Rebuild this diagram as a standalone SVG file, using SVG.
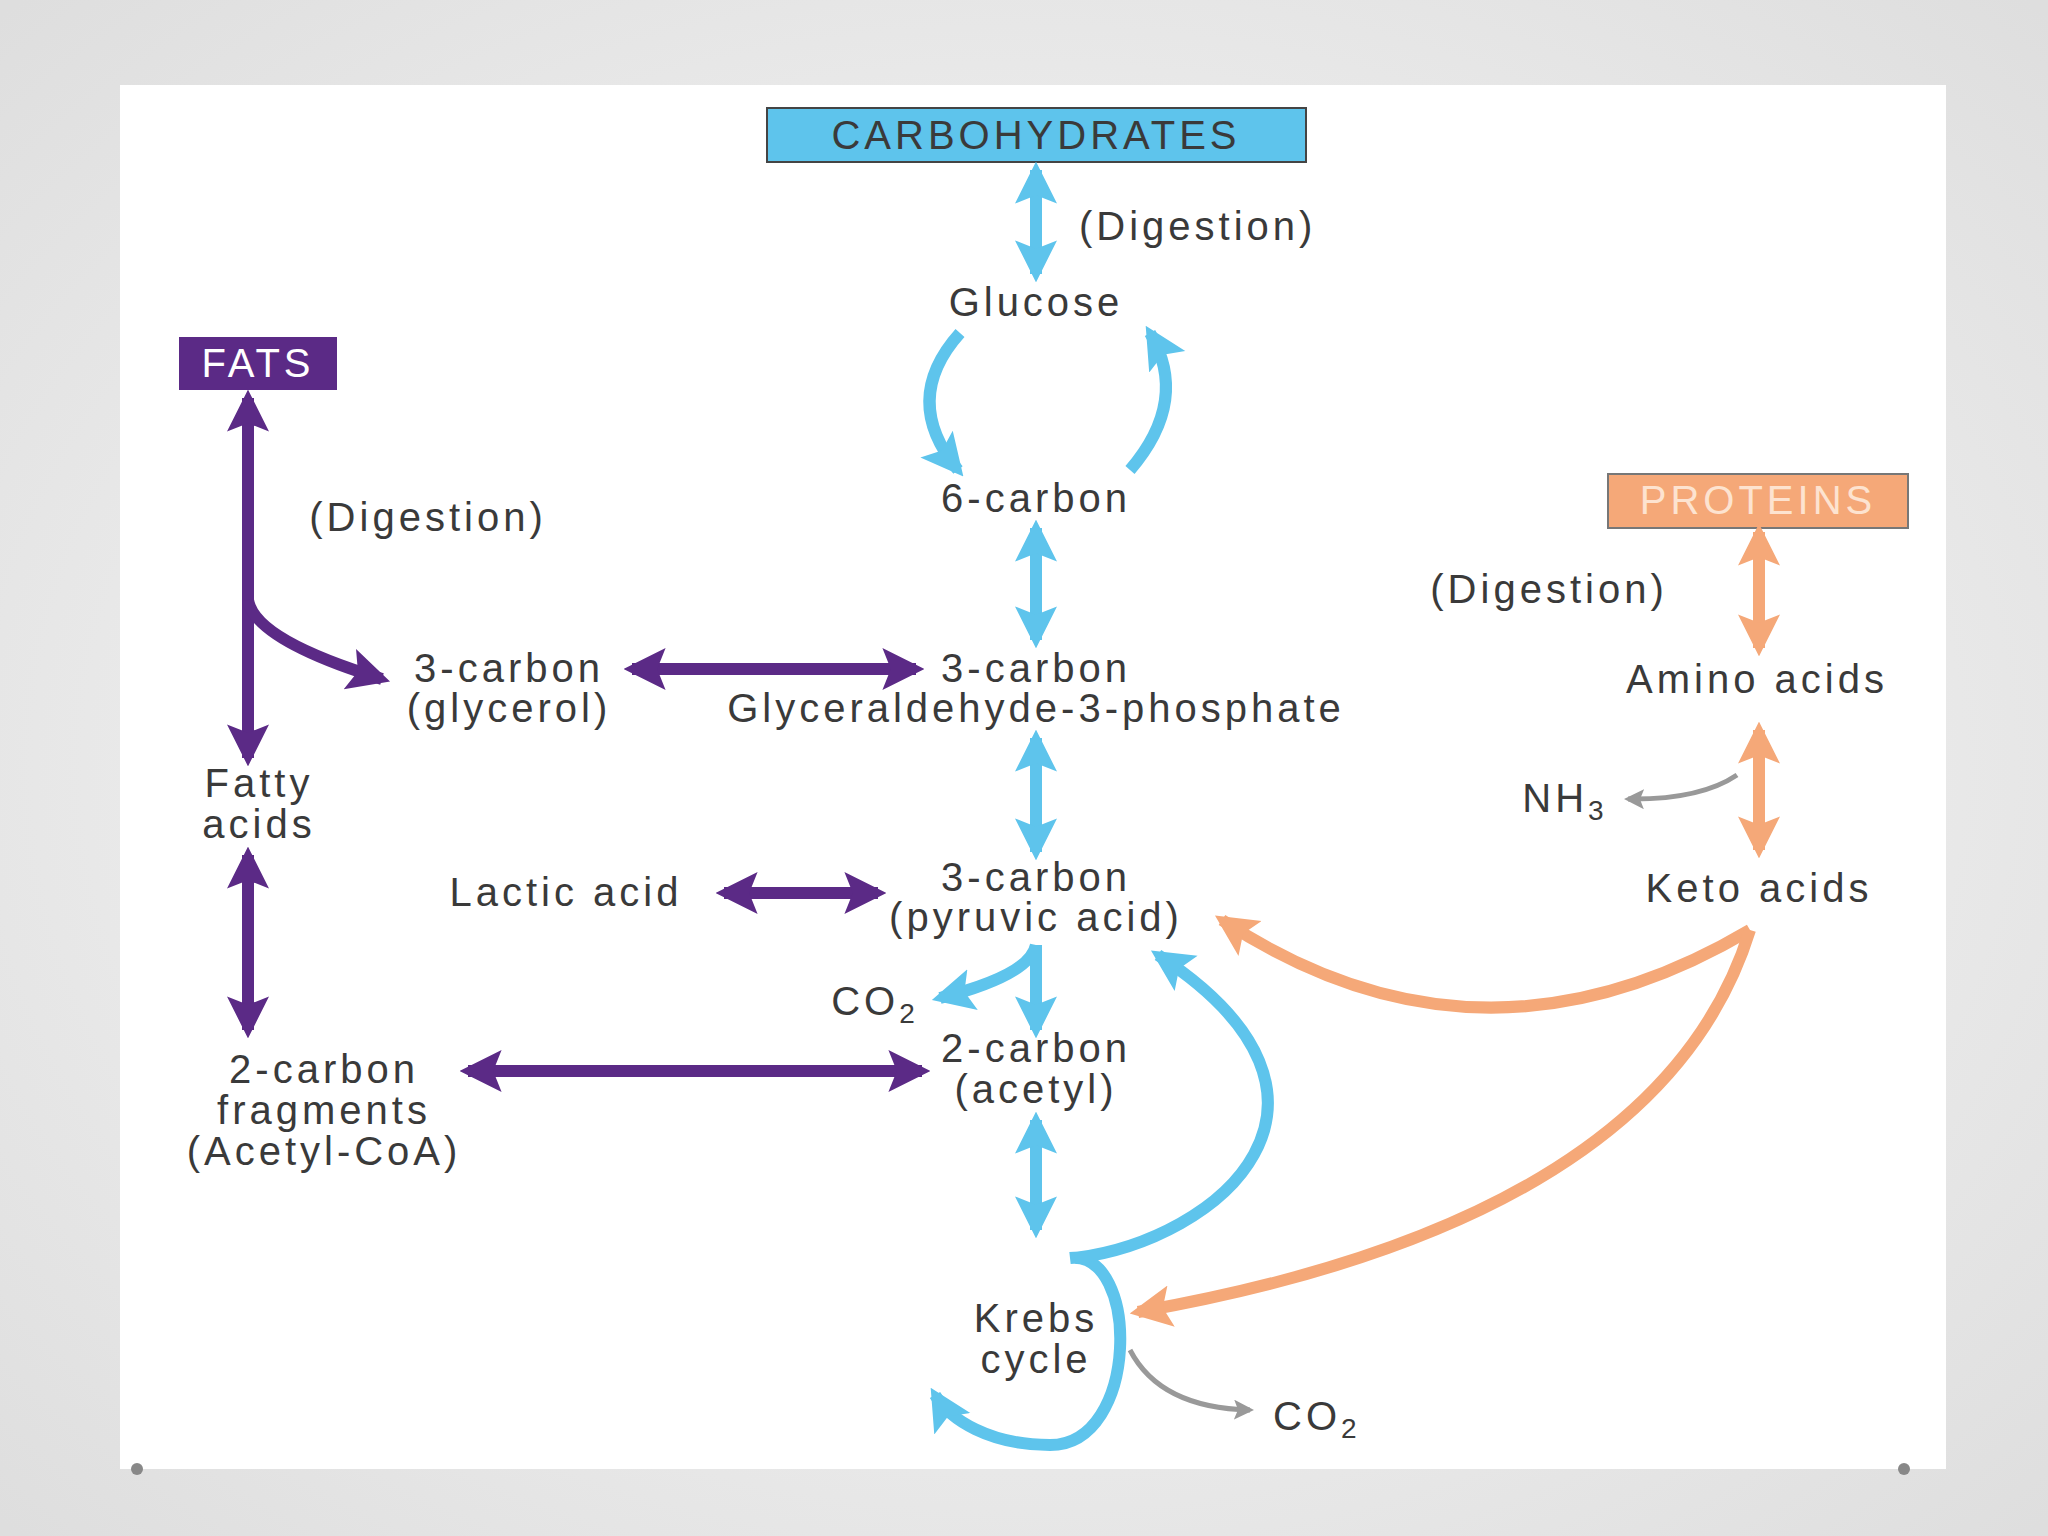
<svg xmlns="http://www.w3.org/2000/svg" width="2048" height="1536" viewBox="0 0 2048 1536">
<defs>
<radialGradient id="bg" cx="0.5" cy="0.5" r="0.7"><stop offset="0" stop-color="#fbfbfb"/><stop offset="1" stop-color="#dedede"/></radialGradient>
<marker id="hb" viewBox="0 0 10 10" refX="8" refY="5" markerWidth="42" markerHeight="46" markerUnits="userSpaceOnUse" orient="auto-start-reverse"><path d="M0,0 L10,5 L0,10 L2,5 Z" fill="#5ec4ec"/></marker>
<marker id="hp" viewBox="0 0 10 10" refX="8" refY="5" markerWidth="42" markerHeight="46" markerUnits="userSpaceOnUse" orient="auto-start-reverse"><path d="M0,0 L10,5 L0,10 L2,5 Z" fill="#5b2a86"/></marker>
<marker id="ho" viewBox="0 0 10 10" refX="8" refY="5" markerWidth="42" markerHeight="46" markerUnits="userSpaceOnUse" orient="auto-start-reverse"><path d="M0,0 L10,5 L0,10 L2,5 Z" fill="#f5a878"/></marker>
<marker id="hg" viewBox="0 0 10 10" refX="8" refY="5" markerWidth="20" markerHeight="20" markerUnits="userSpaceOnUse" orient="auto"><path d="M0,0 L10,5 L0,10 L2,5 Z" fill="#999"/></marker>
</defs>
<style>
text{font-family:"Liberation Sans",Arial,sans-serif;font-size:40px;letter-spacing:4px;fill:#3a3a3a;text-anchor:middle}
.s{text-anchor:start}
.b{stroke:#5ec4ec;stroke-width:12;fill:none}
.p{stroke:#5b2a86;stroke-width:12;fill:none}
.o{stroke:#f5a878;stroke-width:12;fill:none}
</style>
<rect width="2048" height="1536" fill="url(#bg)"/>
<rect x="120" y="85" width="1826" height="1384" fill="#fff"/>
<circle cx="137" cy="1469" r="6" fill="#888"/><circle cx="1904" cy="1469" r="6" fill="#888"/>
<g id="carbohydrates"><rect x="767" y="108" width="539" height="54" fill="#5ec4ec" stroke="#444" stroke-width="2"/><text x="1036" y="149">CARBOHYDRATES</text></g>
<g id="fats"><rect x="179" y="337" width="158" height="53" fill="#5b2a86"/><text x="258" y="377" style="fill:#fff">FATS</text></g>
<g id="proteins"><rect x="1608" y="474" width="300" height="54" fill="#f5a878" stroke="#777" stroke-width="2"/><text x="1758" y="514" style="fill:#fde3d0">PROTEINS</text></g>
<g id="labels">
<text class="s" x="1079" y="240">(Digestion)</text>
<text x="1036" y="316">Glucose</text>
<text x="1036" y="512">6-carbon</text>
<text x="1036" y="682">3-carbon</text><text x="1036" y="722">Glyceraldehyde-3-phosphate</text>
<text x="1036" y="891">3-carbon</text><text x="1036" y="931">(pyruvic acid)</text>
<text x="875" y="1015">CO<tspan font-size="28" dy="8">2</tspan></text>
<text x="1036" y="1062">2-carbon</text><text x="1036" y="1103">(acetyl)</text>
<text x="1036" y="1332">Krebs</text><text x="1036" y="1373">cycle</text>
<text class="s" x="1273" y="1430">CO<tspan font-size="28" dy="8">2</tspan></text>
<text x="428" y="531">(Digestion)</text>
<text x="509" y="682">3-carbon</text><text x="509" y="722">(glycerol)</text>
<text x="259" y="797">Fatty</text><text x="259" y="838">acids</text>
<text x="566" y="906">Lactic acid</text>
<text x="324" y="1083">2-carbon</text><text x="324" y="1124">fragments</text><text x="324" y="1165">(Acetyl-CoA)</text>
<text x="1549" y="603">(Digestion)</text>
<text x="1757" y="693">Amino acids</text>
<text x="1565" y="812">NH<tspan font-size="28" dy="8">3</tspan></text>
<text x="1759" y="902">Keto acids</text>
</g>
<g id="connectors">
<path class="b" d="M1036,170 V274" marker-start="url(#hb)" marker-end="url(#hb)"/>
<path class="b" d="M960,333 Q900,400 958,470" marker-end="url(#hb)"/>
<path class="b" d="M1130,470 Q1190,400 1150,333" marker-end="url(#hb)"/>
<path class="b" d="M1036,528 V640" marker-start="url(#hb)" marker-end="url(#hb)"/>
<path class="b" d="M1036,738 V852" marker-start="url(#hb)" marker-end="url(#hb)"/>
<path class="b" d="M1036,945 Q1030,975 940,998" marker-end="url(#hb)"/>
<path class="b" d="M1036,945 V1030" marker-end="url(#hb)"/>
<path class="b" d="M1036,1120 V1230" marker-start="url(#hb)" marker-end="url(#hb)"/>
<path class="b" d="M1070,1258 C1140,1250 1140,1445 1050,1445 C990,1445 950,1420 935,1395" marker-end="url(#hb)"/>
<path class="b" d="M1075,1258 C1220,1240 1380,1100 1158,955" marker-end="url(#hb)"/>
<path d="M1130,1350 Q1160,1408 1250,1410" stroke="#999" stroke-width="5" fill="none" marker-end="url(#hg)"/>
<path class="p" d="M248,398 V758" marker-start="url(#hp)" marker-end="url(#hp)"/>
<path class="p" d="M248,600 Q255,640 382,679" marker-end="url(#hp)"/>
<path class="p" d="M632,669 H916" marker-start="url(#hp)" marker-end="url(#hp)"/>
<path class="p" d="M248,855 V1030" marker-start="url(#hp)" marker-end="url(#hp)"/>
<path class="p" d="M724,893 H878" marker-start="url(#hp)" marker-end="url(#hp)"/>
<path class="p" d="M468,1071 H922" marker-start="url(#hp)" marker-end="url(#hp)"/>
<path class="o" d="M1759,532 V648" marker-start="url(#ho)" marker-end="url(#ho)"/>
<path class="o" d="M1759,730 V850" marker-start="url(#ho)" marker-end="url(#ho)"/>
<path d="M1737,775 Q1700,800 1628,799" stroke="#999" stroke-width="5" fill="none" marker-end="url(#hg)"/>
<path class="o" d="M1750,930 Q1480,1090 1222,920" marker-end="url(#ho)"/>
<path class="o" d="M1750,930 Q1660,1220 1138,1312" marker-end="url(#ho)"/>
</g>
</svg>
